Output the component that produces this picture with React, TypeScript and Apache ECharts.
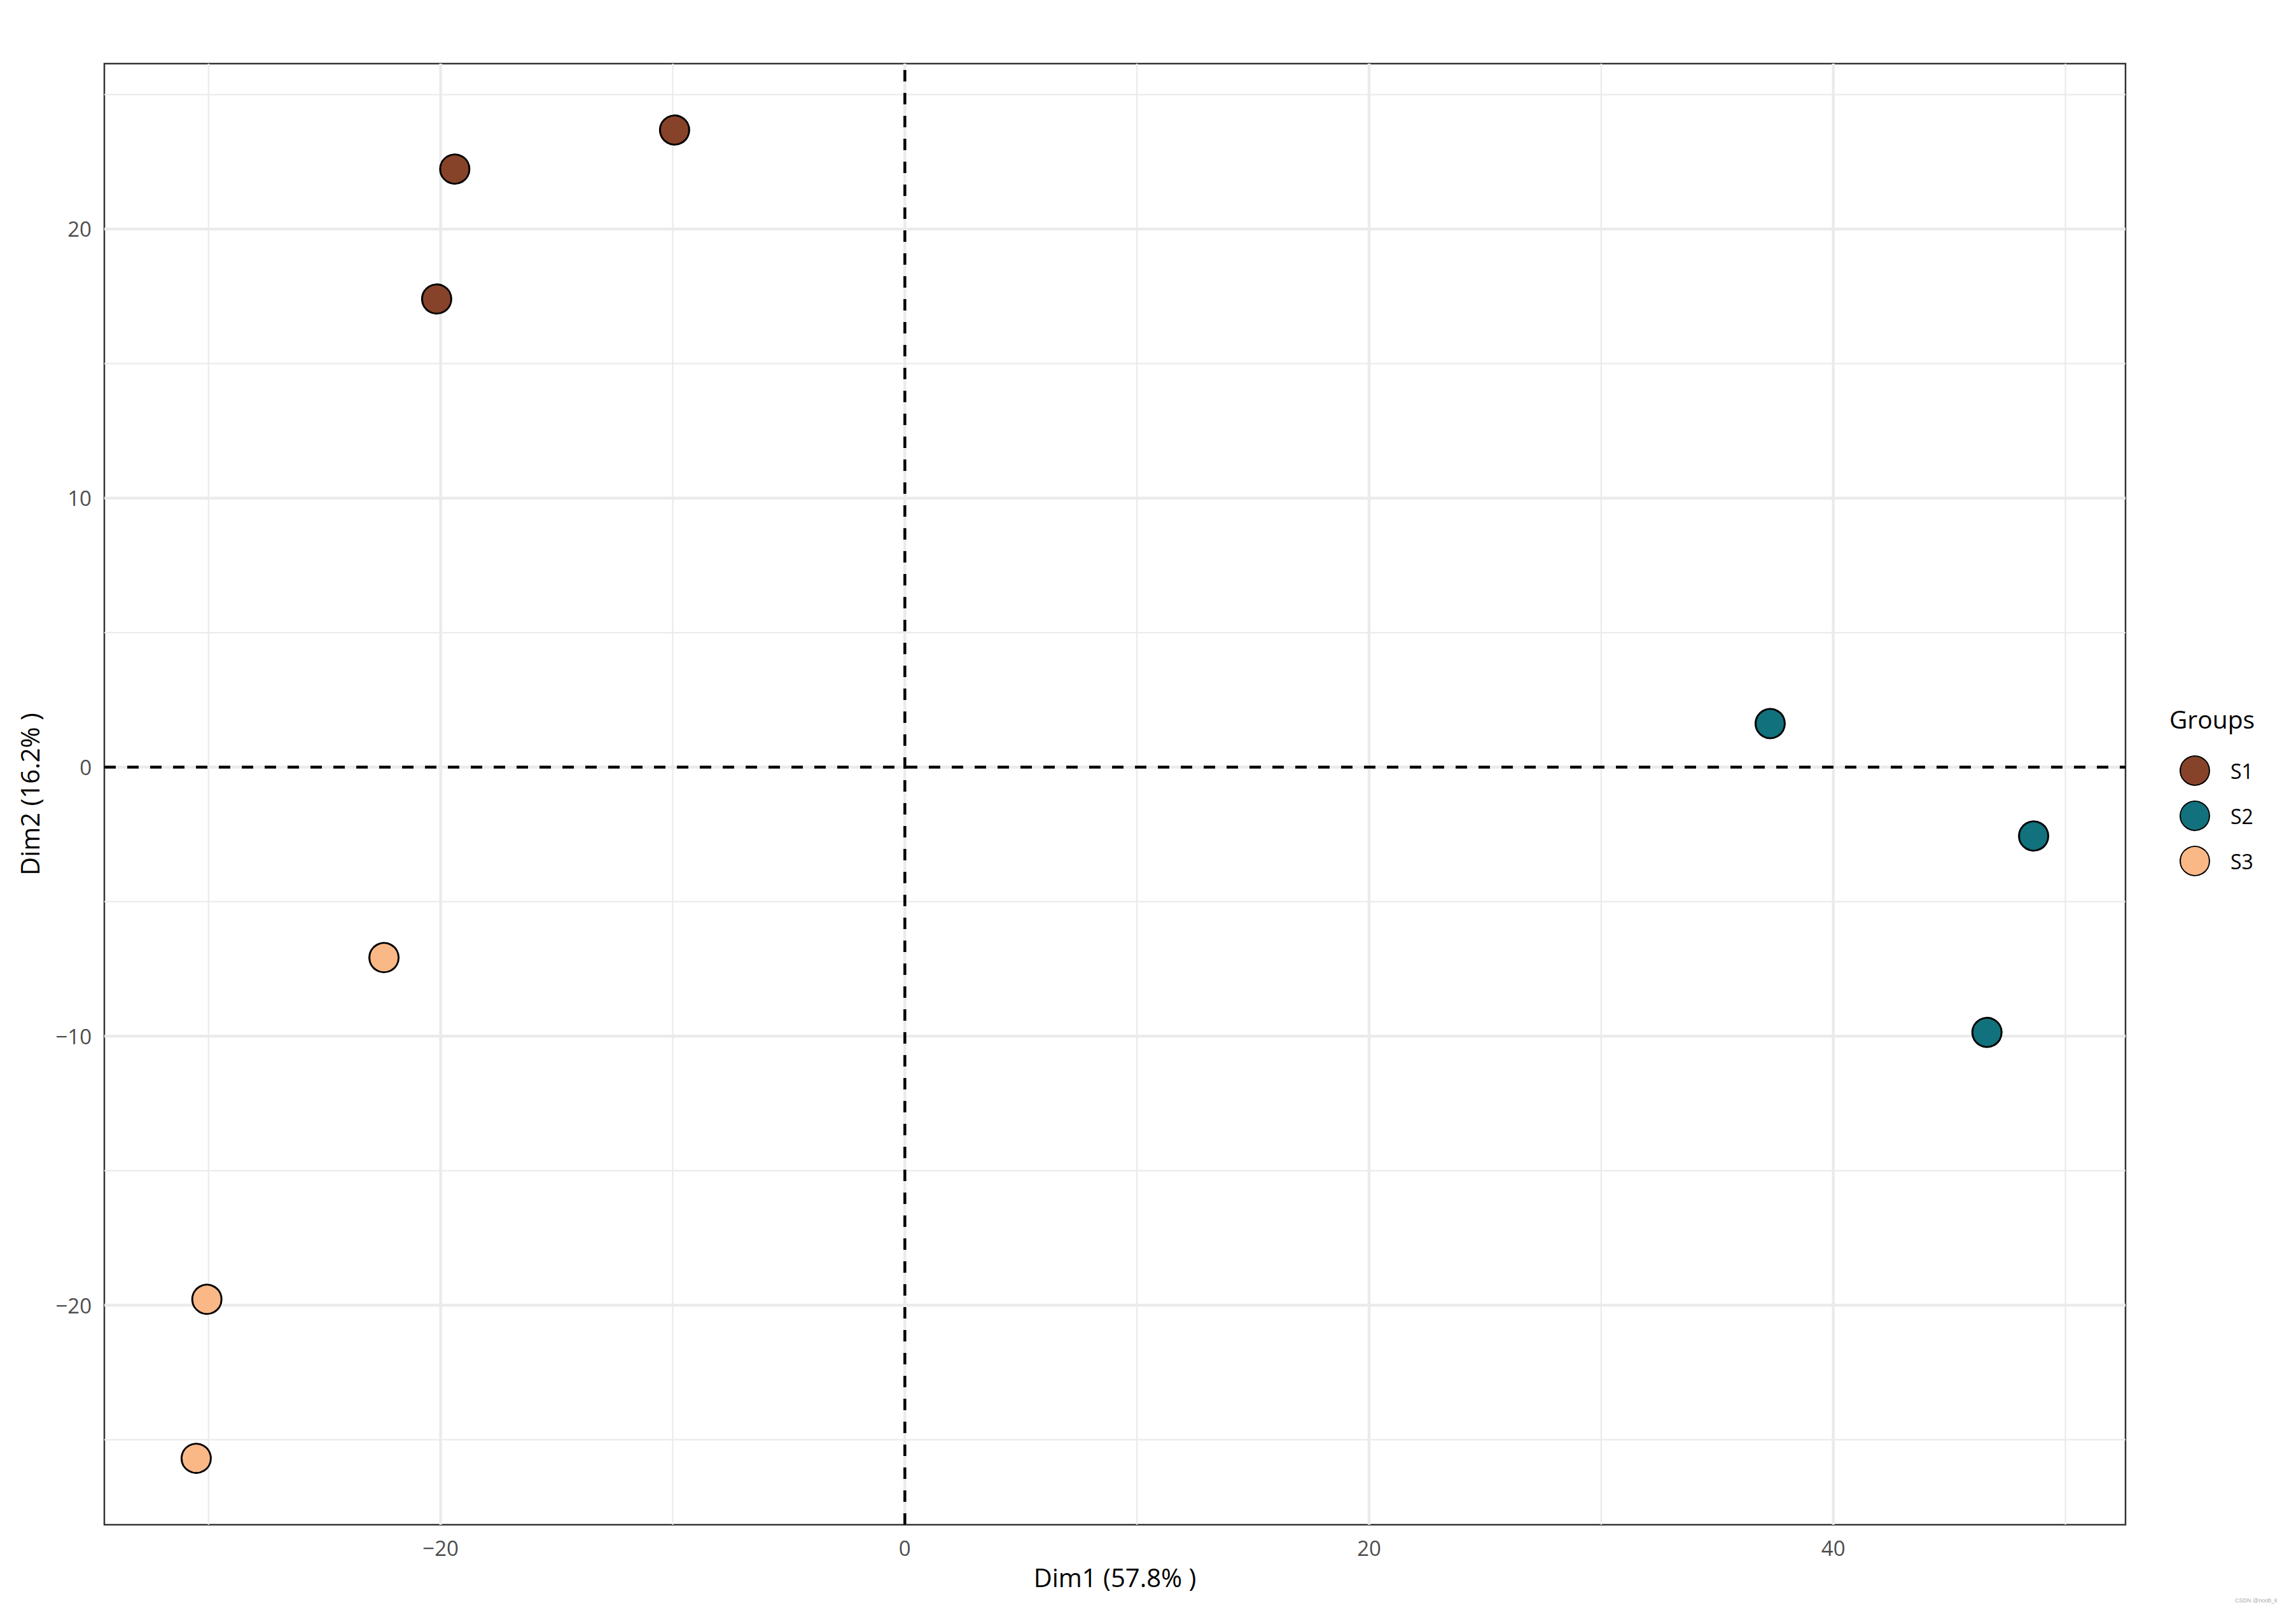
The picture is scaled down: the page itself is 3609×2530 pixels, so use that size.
import React, { useEffect, useRef } from "react";
import * as echarts from "echarts";

const groups = ["S1", "S2", "S3"];
const groupColors = ["#874329", "#11717C", "#FAB887"];
const s1X = [-9.92, -19.39, -20.17];
const s1Y = [23.68, 22.23, 17.4];
const s2X = [37.28, 48.63, 46.62];
const s2Y = [1.62, -2.56, -9.86];
const s3X = [-30.07, -30.53, -22.44];
const s3Y = [-19.78, -25.69, -7.08];
const xBreaks = [-20, 0, 20, 40];
const yBreaks = [-20, -10, 0, 10, 20];
const xMinorBreaks = [-30, -10, 10, 30, 50];
const yMinorBreaks = [-25, -15, -5, 5, 15, 25];
const refLines = [0];
const xTitle = "Dim1 (57.8% )";
const yTitle = "Dim2 (16.2% )";
const legendTitle = "Groups";
const watermark = "CSDN @noob_k";

const FONT = "'Open Sans', 'Noto Sans', sans-serif";

export default function App() {
  const ref = useRef<HTMLDivElement>(null);
  useEffect(() => {
    if (!ref.current) return;
    const chart = echarts.init(ref.current, null, { renderer: "svg" });
    const allX = [...s1X, ...s2X, ...s3X];
    const allY = [...s1Y, ...s2Y, ...s3Y];
    const xr = Math.max(...allX) - Math.min(...allX);
    const yr = Math.max(...allY) - Math.min(...allY);
    const xMin = Math.min(...allX) - 0.05 * xr;
    const xMax = Math.max(...allX) + 0.05 * xr;
    const yMin = Math.min(...allY) - 0.05 * yr;
    const yMax = Math.max(...allY) + 0.05 * yr;

    const vline = (v: number, color: string, width: number, type: any, z: number) => ({
      type: "line",
      data: [[v, yMin], [v, yMax]],
      symbol: "none",
      silent: true,
      z,
      lineStyle: { color, width, type },
    });
    const hline = (v: number, color: string, width: number, type: any, z: number) => ({
      type: "line",
      data: [[xMin, v], [xMax, v]],
      symbol: "none",
      silent: true,
      z,
      lineStyle: { color, width, type },
    });

    const gridSeries: any[] = [
      ...xMinorBreaks.map((v) => vline(v, "#EBEBEB", 2.3, "solid", 1)),
      ...yMinorBreaks.map((v) => hline(v, "#EBEBEB", 2.3, "solid", 1)),
      ...xBreaks.map((v) => vline(v, "#EBEBEB", 4.5, "solid", 1)),
      ...yBreaks.map((v) => hline(v, "#EBEBEB", 4.5, "solid", 1)),
      ...refLines.map((v) => vline(v, "#000000", 4.5, [18, 18], 2)),
      ...refLines.map((v) => hline(v, "#000000", 4.5, [18, 18], 2)),
    ];

    const xs = [s1X, s2X, s3X];
    const ys = [s1Y, s2Y, s3Y];
    const pointSeries = groups.map((g, i) => ({
      name: g,
      type: "scatter",
      z: 3,
      symbol: "circle",
      symbolSize: 46,
      data: xs[i].map((x, j) => [x, ys[i][j]]),
      itemStyle: { color: groupColors[i], borderColor: "#000000", borderWidth: 3, opacity: 1 },
    }));

    const fmt = (v: number) => String(v).replace("-", "\u2212");

    chart.setOption({
      animation: false,
      backgroundColor: "#ffffff",
      textStyle: { fontFamily: FONT },
      grid: {
        left: 164,
        right: 268,
        top: 100,
        bottom: 134,
        show: true,
        borderColor: "#333333",
        borderWidth: 2.5,
        backgroundColor: "transparent",
      },
      xAxis: {
        type: "value",
        min: xMin,
        max: xMax,
        name: xTitle,
        nameLocation: "middle",
        nameGap: 62,
        nameTextStyle: { fontSize: 40, color: "#000000", fontFamily: FONT },
        axisLine: { show: false },
        axisTick: { show: true, length: 11, customValues: xBreaks, lineStyle: { color: "#333333", width: 2.5 } },
        axisLabel: { customValues: xBreaks, margin: 20, fontSize: 33, color: "#4D4D4D", fontFamily: FONT, formatter: fmt },
        splitLine: { show: false },
      },
      yAxis: {
        type: "value",
        min: yMin,
        max: yMax,
        name: yTitle,
        nameLocation: "middle",
        nameGap: 98,
        nameTextStyle: { fontSize: 40, color: "#000000", fontFamily: FONT },
        axisLine: { show: false },
        axisTick: { show: true, length: 11, customValues: yBreaks, lineStyle: { color: "#333333", width: 2.5 } },
        axisLabel: { customValues: yBreaks, margin: 20, fontSize: 33, color: "#4D4D4D", fontFamily: FONT, formatter: fmt },
        splitLine: { show: false },
      },
      legend: {
        data: groups,
        orient: "vertical",
        left: 3421,
        top: 1182,
        itemWidth: 46,
        itemHeight: 46,
        itemGap: 23,
        icon: "circle",
        textStyle: { fontSize: 32, color: "#000000", fontFamily: FONT, padding: [0, 0, 0, 28] },
        selectedMode: false,
      },
      graphic: [
        {
          type: "text",
          x: 3410,
          y: 1129,
          style: { text: legendTitle, fontSize: 39, fill: "#000000", fontFamily: FONT, verticalAlign: "middle" },
        },
        {
          type: "text",
          x: 3513,
          y: 2515,
          style: { text: watermark, fontSize: 9, fill: "#aaaaaa", fontFamily: "Arial, sans-serif", verticalAlign: "middle" },
        },
      ],
      series: [...gridSeries, ...pointSeries],
    });
    return () => chart.dispose();
  }, []);
  return (
    <div
      ref={ref}
      style={{ position: "absolute", left: 0, top: 0, width: 3609, height: 2530 }}
    />
  );
}
